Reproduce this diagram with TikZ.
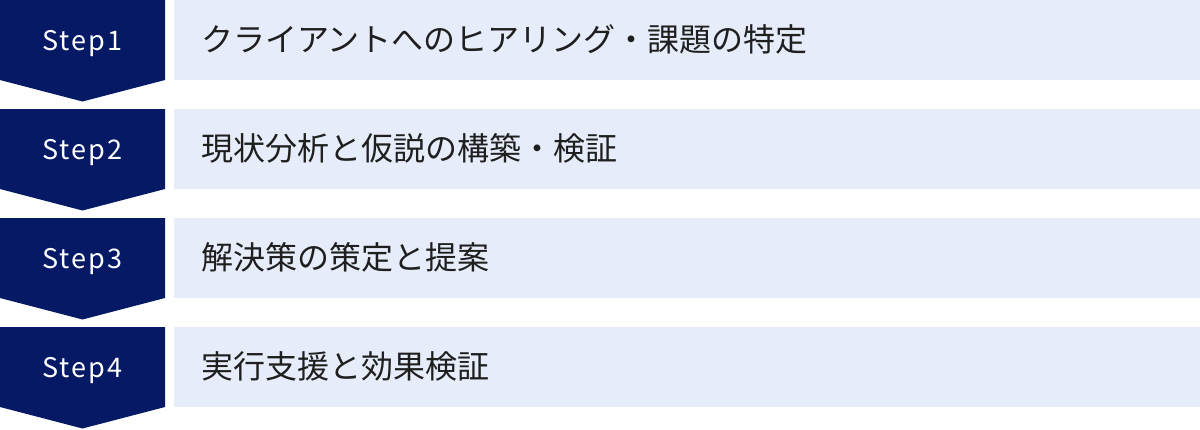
\documentclass[tikz,border=0pt]{standalone}
\usepackage{fontspec}
\setmainfont{Noto Sans CJK JP}
\newfontfamily\stepfont[LetterSpace=8]{Noto Sans CJK JP}
\definecolor{navy}{HTML}{051965}
\definecolor{paleblue}{HTML}{E6ECF9}

\begin{document}
\begin{tikzpicture}[x=1pt,y=-1pt,
  stepbox/.style={fill=navy},
  steplabel/.style={text=white,inner sep=0pt,anchor=base,font=\stepfont\fontsize{27}{27}\selectfont},
  taskbox/.style={fill=paleblue,minimum width=1026pt,minimum height=80pt,inner sep=0pt,anchor=north west},
  tasklabel/.style={anchor=base west,text=black!88,inner sep=0pt,font=\fontsize{32}{32}\selectfont}]
  \useasboundingbox (0,0) rectangle (1200,429);
  % \draw[thin,gray!40] (0,0) grid[step=100] (1200,429);
  \foreach \i/\txt in {1/{クライアントへのヒアリング・課題の特定},
                       2/{現状分析と仮説の構築・検証},
                       3/{解決策の策定と提案},
                       4/{実行支援と効果検証}} {
    \pgfmathsetmacro\rowy{(\i-1)*109}
    \fill[stepbox] (0,\rowy) -- ++(165,0) -- ++(0,80) -- ++(-82.5,21.5) -- ++(-82.5,-21.5) -- cycle;
    \node[steplabel] (step\i) at (82.5,\rowy+50) {Step\i};
    \node[taskbox] (task\i) at (174,\rowy) {};
    \node[tasklabel] (text\i) at (201,\rowy+51) {\txt};
  }
\end{tikzpicture}
\end{document}
